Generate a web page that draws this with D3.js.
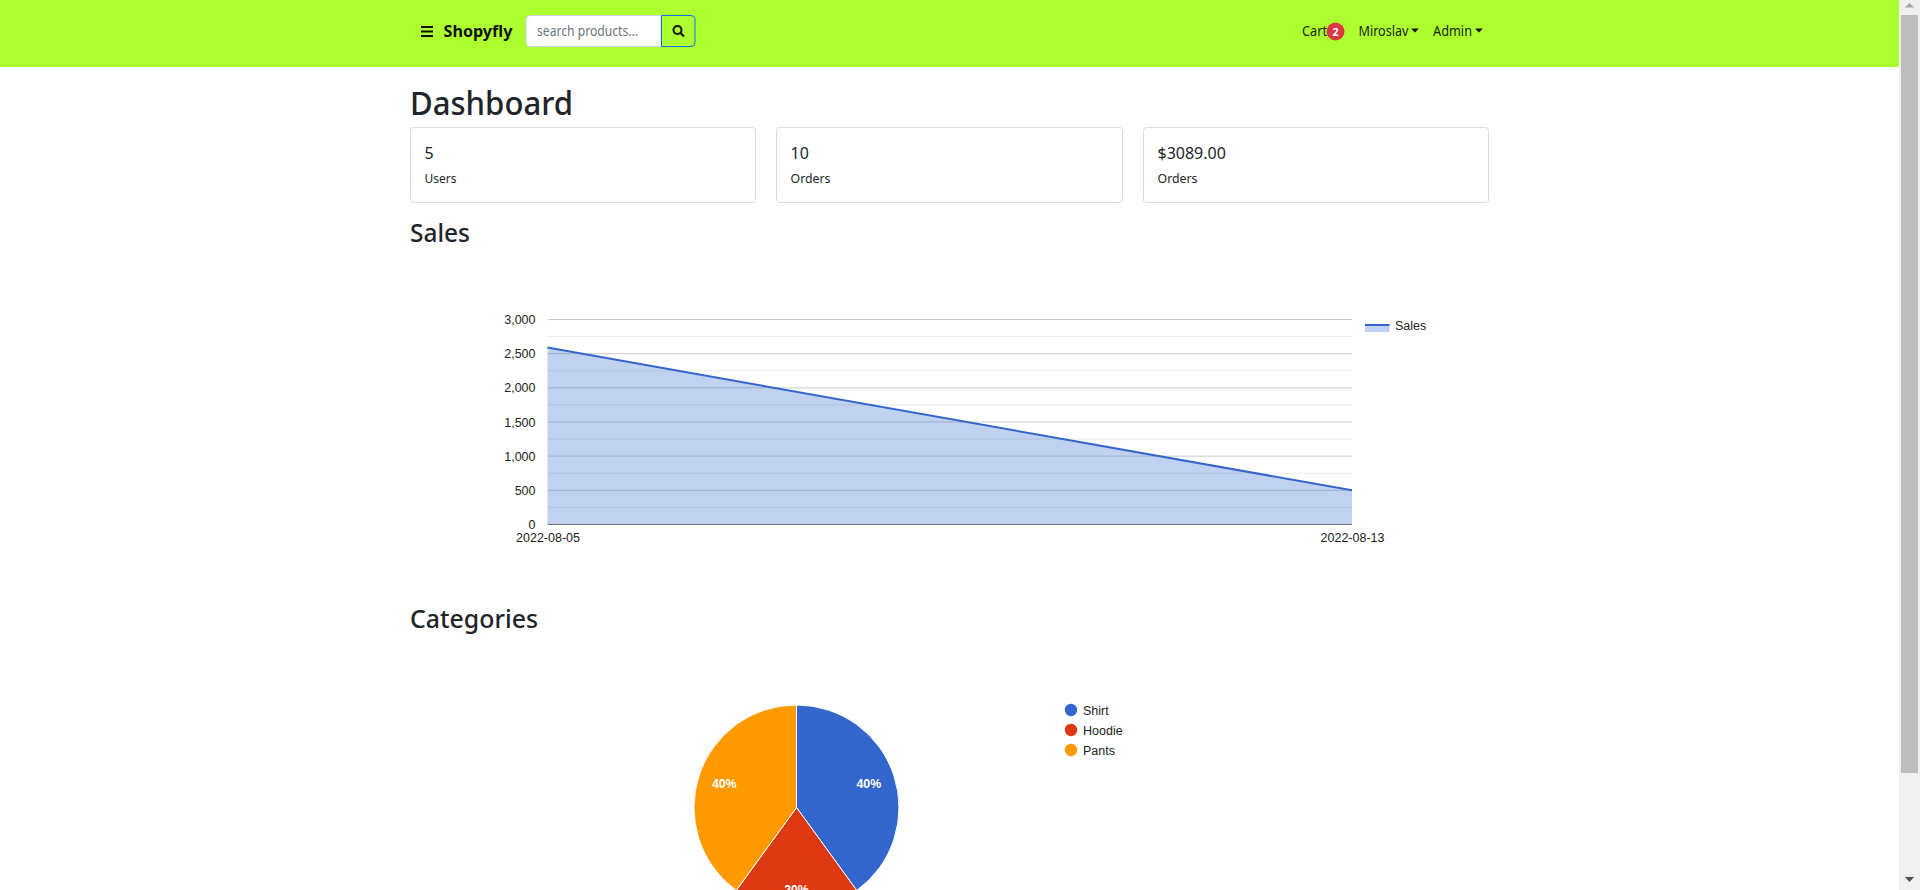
<!DOCTYPE html>
<html>
<head>
<meta charset="utf-8">
<title>Shopyfly Dashboard</title>
<script src="https://cdnjs.cloudflare.com/ajax/libs/d3/7.8.5/d3.min.js"></script>
<style>
html, body { margin: 0; padding: 0; overflow: hidden; background: #fff; }
svg { display: block; }
text { font-family: "Noto Sans", sans-serif; }
.gchart text { font-family: "Liberation Sans", Arial, sans-serif; }
.axis path, .axis line { display: none; }
</style>
</head>
<body>
<svg id="page" width="1920" height="890"></svg>
<script>
// values
var salesDates = ["2022-08-05", "2022-08-13"];
var salesValues = [2589, 500];
var salesTicks = [0, 500, 1000, 1500, 2000, 2500, 3000];
var salesMinorTicks = [250, 750, 1250, 1750, 2250, 2750];
var categoryNames = ["Shirt", "Hoodie", "Pants"];
var categoryValues = [2, 1, 2];
var categoryColors = ["#3366cc", "#dc3912", "#ff9900"];
var cardValues = ["5", "10", "$3089.00"];
var cardLabels = ["Users", "Orders", "Orders"];
var cardLabelWidths = [32, 40, 40];
var cardLefts = [410.5, 776.5, 1143.5];
var cardWidths = [345, 346, 345];

var svg = d3.select("#page");

function label(parent, x, y, str, size, width, color, weight) {
	var t = parent.append("text")
		.attr("x", x)
		.attr("y", y)
		.attr("font-size", size)
		.attr("fill", color || "#212529")
		.attr("font-weight", weight || 400)
		.text(str);
	if (width) {
		t.attr("textLength", width).attr("lengthAdjust", "spacingAndGlyphs");
	}
	return t;
}

// navbar
var nav = svg.append("g");
nav.append("rect").attr("width", 1899).attr("height", 67).attr("fill", "#adff2f");

[27, 31.5, 36].forEach(function (y) {
	nav.append("rect").attr("x", 421).attr("y", y - 1).attr("width", 12).attr("height", 2).attr("fill", "#111");
});
label(nav, 443.5, 37, "Shopyfly", 16, 69, "#111", 700);

nav.append("path")
	.attr("d", "M661,15.5 H530 a4,4 0 0 0 -4,4 V42.5 a4,4 0 0 0 4,4 H661 Z")
	.attr("fill", "#fff").attr("stroke", "#ced4da");
label(nav, 537, 36, "search products...", 14, 101, "#6c757d");
nav.append("path")
	.attr("d", "M661.5,15.5 H691 a4,4 0 0 1 4,4 V42.5 a4,4 0 0 1 -4,4 H661.5 Z")
	.attr("fill", "none").attr("stroke", "#0d6efd");
nav.append("circle").attr("cx", 677.5).attr("cy", 30).attr("r", 4).attr("fill", "none").attr("stroke", "#111").attr("stroke-width", 2);
nav.append("line").attr("x1", 680.5).attr("y1", 33).attr("x2", 684).attr("y2", 36.5).attr("stroke", "#111").attr("stroke-width", 2);

label(nav, 1302, 36, "Cart", 14, 25, "#1a2410");
nav.append("circle").attr("cx", 1335.5).attr("cy", 31.5).attr("r", 9).attr("fill", "#dc3545");
label(nav, 1335.5, 35.5, "2", 10.5, null, "#fff", 700).attr("text-anchor", "middle");
label(nav, 1358.5, 36, "Miroslav", 14, 50, "#1a2410");
label(nav, 1433, 36, "Admin", 14, 39, "#1a2410");
[1411, 1475].forEach(function (x) {
	nav.append("path").attr("d", "M" + x + ",28.5 h8 l-4,4 Z").attr("fill", "#111");
});

// headings
label(svg, 410, 115, "Dashboard", 33, 163, "#212529", 500);
label(svg, 410, 241.5, "Sales", 25, 60, "#212529", 500);
label(svg, 410, 628, "Categories", 25, 128, "#212529", 500);

// stat cards
cardLefts.forEach(function (x, i) {
	svg.append("rect")
		.attr("x", x).attr("y", 127.5)
		.attr("width", cardWidths[i]).attr("height", 75)
		.attr("rx", 3)
		.attr("fill", "#fff").attr("stroke", "#dcdcdc");
	label(svg, x + 14, 159, cardValues[i], 16);
	label(svg, x + 14, 183, cardLabels[i], 13, cardLabelWidths[i]);
});

// sales area chart
var sales = svg.append("g").attr("class", "gchart");
var parseDay = d3.utcParse("%Y-%m-%d");
var salesRows = salesDates.map(function (d, i) {
	return { date: parseDay(d), value: salesValues[i] };
});
var x = d3.scaleUtc().domain(d3.extent(salesRows, function (d) { return d.date; })).range([547.5, 1352]);
var y = d3.scaleLinear().domain([0, 3000]).range([524.5, 319.5]);

sales.selectAll("line.minor").data(salesMinorTicks).enter().append("line")
	.attr("class", "minor")
	.attr("x1", x.range()[0]).attr("x2", x.range()[1])
	.attr("y1", y).attr("y2", y)
	.attr("stroke", "#ebebeb");
sales.selectAll("line.major").data(salesTicks).enter().append("line")
	.attr("class", "major")
	.attr("x1", x.range()[0]).attr("x2", x.range()[1])
	.attr("y1", y).attr("y2", y)
	.attr("stroke", function (d) { return d === 0 ? "#777" : "#ccc"; });

var area = d3.area()
	.x(function (d) { return x(d.date); })
	.y0(y(0))
	.y1(function (d) { return y(d.value); });
var line = d3.line()
	.x(function (d) { return x(d.date); })
	.y(function (d) { return y(d.value); });
sales.append("path").datum(salesRows).attr("d", area).attr("fill", "#3366cc").attr("fill-opacity", 0.3);
sales.append("path").datum(salesRows).attr("d", line).attr("fill", "none").attr("stroke", "#3366cc").attr("stroke-width", 2);

var yAxis = sales.append("g")
	.attr("class", "axis")
	.attr("transform", "translate(" + x.range()[0] + ",0)")
	.call(d3.axisLeft(y).tickValues(salesTicks).tickSize(0).tickPadding(12).tickFormat(d3.format(",")));
var xAxis = sales.append("g")
	.attr("class", "axis")
	.attr("transform", "translate(0,533)")
	.call(d3.axisBottom(x).tickValues(salesRows.map(function (d) { return d.date; })).tickSize(0).tickPadding(0).tickFormat(d3.utcFormat("%Y-%m-%d")));
[yAxis, xAxis].forEach(function (a) {
	a.selectAll("text").attr("font-size", 12.5).attr("fill", "#222");
	a.attr("font-family", null).attr("font-size", null);
});

sales.append("rect").attr("x", 1365).attr("y", 325).attr("width", 24.5).attr("height", 7).attr("fill", "#3366cc").attr("fill-opacity", 0.3);
sales.append("line").attr("x1", 1365).attr("x2", 1389.5).attr("y1", 325).attr("y2", 325).attr("stroke", "#3366cc").attr("stroke-width", 2);
label(sales, 1395, 330, "Sales", 12.5, null, "#222");

// categories pie chart
var pieRows = d3.pie().sort(null)(categoryValues);
var total = d3.sum(categoryValues);
var pieG = svg.append("g").attr("class", "gchart").attr("transform", "translate(796.5,807.5)");
var arc = d3.arc().innerRadius(0).outerRadius(102.5);

// the small slice label sits further out than the two big ones
function pieLabelPos(d) {
	var r = d.value === d3.max(categoryValues) ? 76 : 82;
	return d3.arc().innerRadius(r).outerRadius(r).centroid(d);
}

pieG.selectAll("path").data(pieRows).enter().append("path")
	.attr("d", arc)
	.attr("fill", function (d, i) { return categoryColors[i]; })
	.attr("stroke", "#fff");
pieG.selectAll("text").data(pieRows).enter().append("text")
	.attr("x", function (d) { return pieLabelPos(d)[0]; })
	.attr("y", function (d) { return pieLabelPos(d)[1]; })
	.attr("dy", "0.35em")
	.attr("text-anchor", "middle")
	.attr("font-size", 12.3)
	.attr("font-weight", 700)
	.attr("fill", "#fff")
	.text(function (d) { return Math.round(d.value / total * 100) + "%"; });

var legend = svg.append("g").attr("class", "gchart");
categoryNames.forEach(function (name, i) {
	var rowY = 710 + i * 20;
	legend.append("circle").attr("cx", 1071).attr("cy", rowY).attr("r", 6.2).attr("fill", categoryColors[i]);
	label(legend, 1083, rowY + 4.5, name, 12.5, null, "#222");
});

// browser scrollbar
var bar = svg.append("g");
bar.append("rect").attr("x", 1899).attr("width", 21).attr("height", 890).attr("fill", "#f0f0f0");
bar.append("rect").attr("x", 1901).attr("y", 15).attr("width", 17).attr("height", 758).attr("fill", "#bdbdbd");
bar.append("path").attr("d", "M1905,7.5 L1909.5,3 L1914,7.5 Z").attr("fill", "#a3a3a3");
bar.append("path").attr("d", "M1905,877 L1909.5,882 L1914,877 Z").attr("fill", "#505050");
</script>
</body>
</html>
